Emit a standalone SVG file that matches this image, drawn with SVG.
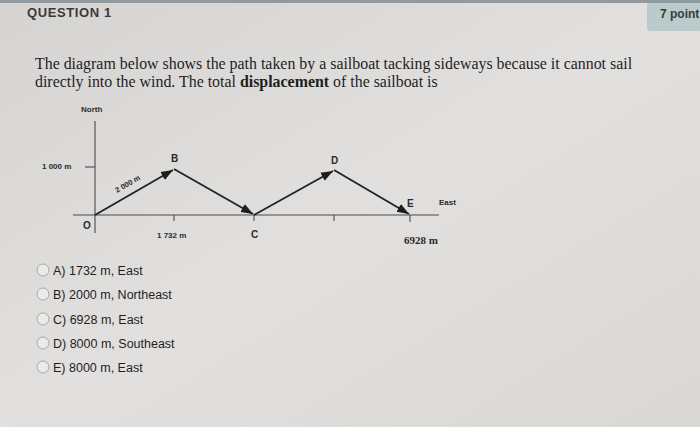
<svg xmlns="http://www.w3.org/2000/svg" width="700" height="427" viewBox="0 0 700 427">
<defs>
<linearGradient id="bg" x1="0" y1="0" x2="1" y2="1">
<stop offset="0" stop-color="#d6d4d2"/>
<stop offset="0.5" stop-color="#e2e0de"/>
<stop offset="1" stop-color="#dad8d5"/>
</linearGradient>
<marker id="arr" viewBox="0 0 10 10" refX="10" refY="5" markerWidth="12" markerHeight="12" markerUnits="userSpaceOnUse" orient="auto">
<path d="M0,1.2 L10,5 L0,8.8 z" fill="#1e1e1e"/>
</marker>
<style>
.hdr{font-family:"Liberation Sans",Arial,sans-serif;font-weight:bold;fill:#3a3a3a}
.body{font-family:"Liberation Serif","Times New Roman",serif;font-size:15.9px;fill:#1e1e1e}
.lbl{font-family:"Liberation Sans",Arial,sans-serif;font-weight:bold;fill:#2a2a2a}
.opt{font-family:"Liberation Sans",Arial,sans-serif;font-size:12.5px;fill:#1e1e1e}
.axis{stroke:#4a4a4a;stroke-width:1.1;fill:none}
.path{stroke:#222;stroke-width:1.8;fill:none}
.radio{fill:#ebeae8;stroke:#a8a8a8;stroke-width:1}
</style>
</defs>
<rect width="700" height="427" fill="url(#bg)"/>
<rect width="700" height="3" fill="#8f9ba0"/>
<text class="hdr" x="27" y="17" font-size="13" letter-spacing="0.6">QUESTION 1</text>
<g id="points">
<rect x="647" y="3" width="60" height="28" rx="3" fill="#b9cbcb"/>
<text class="hdr" x="660" y="18" font-size="12" fill="#222">7 point</text>
</g>
<text class="body" x="35" y="69">The diagram below shows the path taken by a sailboat tacking sideways because it cannot sail</text>
<text class="body" x="35" y="87">directly into the wind.  The total <tspan font-weight="bold">displacement</tspan> of the sailboat is</text>
<g id="axes">
<line class="axis" x1="95" y1="121" x2="95" y2="233"/>
<line class="axis" x1="73" y1="215" x2="439" y2="215"/>
<line class="axis" x1="85" y1="167" x2="95" y2="167"/>
<line class="axis" x1="174" y1="215" x2="174" y2="221"/>
<line class="axis" x1="334" y1="215" x2="334" y2="221"/>
<line class="axis" x1="410" y1="215" x2="410" y2="222"/>
<line class="axis" x1="254" y1="215" x2="254" y2="221"/>
<text class="lbl" x="81" y="112" font-size="8">North</text>
<text class="lbl" x="42" y="169" font-size="8">1 000 m</text>
<text class="lbl" x="83" y="229" font-size="10">O</text>
<text class="lbl" x="157" y="238" font-size="8">1 732 m</text>
<text class="lbl" x="439" y="205" font-size="8">East</text>
<text x="404" y="244" font-family="Liberation Serif,'Times New Roman',serif" font-weight="bold" font-size="11" fill="#2a2a2a">6928 m</text>
</g>
<g id="connectors">
<line class="path" x1="95" y1="215" x2="173" y2="170" marker-end="url(#arr)"/>
<line class="path" x1="174" y1="169" x2="253" y2="214" marker-end="url(#arr)"/>
<line class="path" x1="254" y1="215" x2="333" y2="171" marker-end="url(#arr)"/>
<line class="path" x1="334" y1="170" x2="409" y2="214" marker-end="url(#arr)"/>
<text class="lbl" font-size="7.5" transform="translate(117,193) rotate(-30)">2 000 m</text>
</g>
<g id="B"><text class="lbl" x="171" y="162" font-size="10">B</text></g>
<g id="C"><text class="lbl" x="251" y="238" font-size="10">C</text></g>
<g id="D"><text class="lbl" x="331" y="164" font-size="10">D</text></g>
<g id="E"><text class="lbl" x="407" y="207" font-size="10">E</text></g>
<g id="options">
<circle class="radio" cx="43" cy="270" r="6"/>
<text class="opt" x="53" y="275">A) 1732 m, East</text>
<circle class="radio" cx="43" cy="294" r="6"/>
<text class="opt" x="53" y="299">B) 2000 m, Northeast</text>
<circle class="radio" cx="43" cy="319" r="6"/>
<text class="opt" x="53" y="324">C) 6928 m, East</text>
<circle class="radio" cx="43" cy="343" r="6"/>
<text class="opt" x="53" y="348">D) 8000 m, Southeast</text>
<circle class="radio" cx="43" cy="367" r="6"/>
<text class="opt" x="53" y="372">E) 8000 m, East</text>
</g>
</svg>
